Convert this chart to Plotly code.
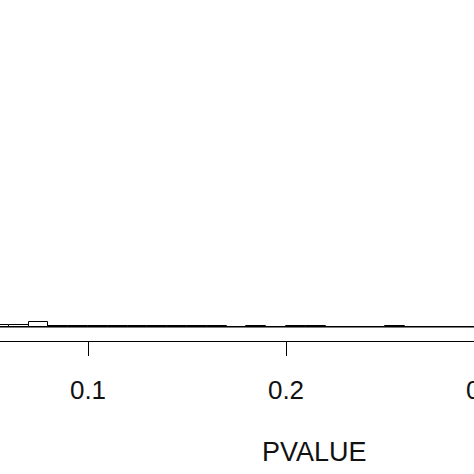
import plotly.graph_objects as go

# Histogram of p-values (visible part of the chart), bin width 0.01
bin_left_edges = [0.05, 0.06, 0.07, 0.08, 0.09, 0.10, 0.11, 0.12, 0.13, 0.14,
                  0.15, 0.16, 0.17, 0.18, 0.19, 0.20, 0.21, 0.22, 0.23, 0.24,
                  0.25, 0.26, 0.27, 0.28, 0.29]
counts = [2, 2, 5, 1, 1, 1, 1, 1, 1, 1,
          1, 1, 0, 1, 0, 1, 1, 0, 0, 0,
          1, 0, 0, 0, 0]
bin_width = 0.01
tick_values = [0.1, 0.2, 0.3]
tick_labels = ["0.1", "0.2", "0.3"]
x_title = "PVALUE"

W, H = 474, 474
x_range = [0.1 - 88 / 1980, 0.1 + 386 / 1980]
y_range = [-12.7, 297.3]

centers = [e + bin_width / 2 for e in bin_left_edges]
FONT = "Liberation Sans, Arial, sans-serif"

fig = go.Figure()
# baseline along the bins (zero-count bins are drawn as flat lines in R)
fig.add_trace(go.Scatter(
    x=[bin_left_edges[0], bin_left_edges[-1] + bin_width], y=[0, 0],
    mode="lines", line=dict(color="black", width=1), hoverinfo="skip",
    showlegend=False))
fig.add_trace(go.Bar(
    x=centers, y=counts, width=bin_width,
    marker=dict(color="white", line=dict(color="black", width=1)),
    showlegend=False))

fig.update_layout(
    width=W, height=H,
    margin=dict(l=0, r=0, t=0, b=133),
    paper_bgcolor="white", plot_bgcolor="white",
    bargap=0,
    font=dict(family=FONT, color="black", size=26),
    xaxis=dict(range=x_range, tickvals=tick_values[:2], ticktext=tick_labels[:2],
               ticks="outside", ticklen=14, tickwidth=1, tickcolor="black",
               ticklabelstandoff=12,
               showline=True, linecolor="black", linewidth=1,
               showgrid=False, zeroline=False,
               tickfont=dict(size=26, family=FONT, color="#111")),
    yaxis=dict(range=y_range, visible=False, showgrid=False, zeroline=False),
)

# tick label at 0.3, lying partly outside the figure (cut off at the edge)
paper_x = (tick_values[2] - x_range[0]) / (x_range[1] - x_range[0])
fig.add_annotation(x=paper_x, xref="paper", y=(341 - 389.5) / 341, yref="paper",
                   text=tick_labels[2], showarrow=False, xanchor="center",
                   yanchor="middle", font=dict(size=26, family=FONT, color="#111"))
fig.add_annotation(x=314 / 474, xref="paper", y=(341 - 452) / 341, yref="paper",
                   text=x_title, showarrow=False, xanchor="center",
                   yanchor="middle", font=dict(size=27, family=FONT, color="#111"))

fig.write_html("out.html",
               config={"displayModeBar": False},
               post_script="document.body.style.margin='0';"
                           "document.body.style.overflow='hidden';")
